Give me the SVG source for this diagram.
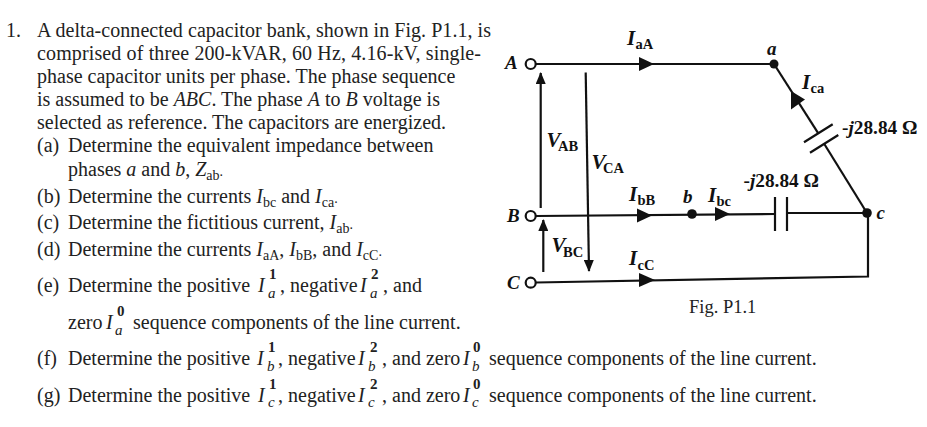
<svg xmlns="http://www.w3.org/2000/svg" width="927" height="427" viewBox="0 0 927 427">
<style>
text{font-family:"Liberation Serif","Times New Roman",serif;fill:#222;white-space:pre}
.t{font-size:20px}
.i{font-style:italic}
.s{font-size:14px}
.u{font-size:15px;font-weight:bold}
.v{font-size:15px;font-style:italic}
.n{font-size:21px;font-weight:bold;font-style:italic;fill:#111}
.l{font-size:19px;font-weight:bold;font-style:italic;fill:#111}
.m{font-size:14.5px;font-weight:bold;fill:#111}
.z{font-size:19.3px;font-weight:bold;fill:#111}
.w{fill:none;stroke:#111;stroke-width:2.2}
.d{fill:#111}
.o{fill:#fff;stroke:#111;stroke-width:2.2}
</style>
<defs>
<marker id="h" viewBox="0 0 12 10" refX="11" refY="5" markerWidth="12" markerHeight="10" markerUnits="userSpaceOnUse" orient="auto"><path d="M0 0L12 5L0 10Z" fill="#111"/></marker>
</defs>
<g id="problem-text" class="t">
<text x="6" y="37">1.</text>
<text x="37" y="37" textLength="454">A delta-connected capacitor bank, shown in Fig. P1.1, is</text>
<text x="37" y="60" textLength="444">comprised of three 200-kVAR, 60 Hz, 4.16-kV, single-</text>
<text x="37" y="83">phase capacitor units per phase. The phase sequence</text>
<text x="37" y="106">is assumed to be <tspan class="i">ABC</tspan>. The phase <tspan class="i">A</tspan> to <tspan class="i">B</tspan> voltage is</text>
<text x="37" y="129">selected as reference. The capacitors are energized.</text>
<text x="37" y="152">(a)</text><text x="68" y="152">Determine the equivalent impedance between</text>
<text x="68" y="176">phases <tspan class="i">a</tspan> and <tspan class="i">b</tspan>, <tspan class="i">Z</tspan><tspan class="s" dy="4">ab</tspan><tspan class="s" dy="-4">.</tspan></text>
<text x="37" y="203">(b)</text><text x="68" y="203">Determine the currents <tspan class="i">I</tspan><tspan class="s" dy="4">bc</tspan><tspan dy="-4"> and </tspan><tspan class="i">I</tspan><tspan class="s" dy="4">ca</tspan><tspan class="s" dy="-4">.</tspan></text>
<text x="37" y="229">(c)</text><text x="68" y="229">Determine the fictitious current, <tspan class="i">I</tspan><tspan class="s" dy="4">ab</tspan><tspan class="s" dy="-4">.</tspan></text>
<text x="37" y="256">(d)</text><text x="68" y="256">Determine the currents <tspan class="i">I</tspan><tspan class="s" dy="4">aA</tspan><tspan dy="-4">, </tspan><tspan class="i">I</tspan><tspan class="s" dy="4">bB</tspan><tspan dy="-4">, and </tspan><tspan class="i">I</tspan><tspan class="s" dy="4">cC</tspan><tspan class="s" dy="-4">.</tspan></text>

<text x="37" y="292">(e)</text><text x="68" y="292">Determine the positive</text>
<text class="i" x="258" y="292">I</text><text class="u" x="269" y="279">1</text><text class="v" x="268" y="298">a</text>
<text x="280" y="292">, negative</text>
<text class="i" x="360" y="292">I</text><text class="u" x="371" y="279">2</text><text class="v" x="370" y="298">a</text>
<text x="383" y="292">, and</text>

<text x="68" y="329">zero</text>
<text class="i" x="106" y="329">I</text><text class="u" x="117" y="316">0</text><text class="v" x="115" y="335">a</text>
<text x="133" y="329">sequence components of the line current.</text>

<text x="37" y="365">(f)</text><text x="68" y="365">Determine the positive</text>
<text class="i" x="257" y="365">I</text><text class="u" x="268" y="352">1</text><text class="v" x="267" y="371">b</text>
<text x="278" y="365">, negative</text>
<text class="i" x="358" y="365">I</text><text class="u" x="370" y="352">2</text><text class="v" x="368" y="371">b</text>
<text x="382" y="365">, and zero</text>
<text class="i" x="463" y="365">I</text><text class="u" x="473" y="352">0</text><text class="v" x="472" y="371">b</text>
<text x="489" y="365">sequence components of the line current.</text>

<text x="37" y="402">(g)</text><text x="68" y="402">Determine the positive</text>
<text class="i" x="258" y="402">I</text><text class="u" x="269" y="389">1</text><text class="v" x="268" y="407">c</text>
<text x="278" y="402">, negative</text>
<text class="i" x="358" y="402">I</text><text class="u" x="370" y="389">2</text><text class="v" x="368" y="407">c</text>
<text x="382" y="402">, and zero</text>
<text class="i" x="463" y="402">I</text><text class="u" x="473" y="389">0</text><text class="v" x="472" y="407">c</text>
<text x="489" y="402">sequence components of the line current.</text>
</g>
<g id="connectors">
<path class="w" d="M536 64H774"/>
<path class="d" d="M639 57L654 64L639 71Z"/>
<path class="w" d="M774 64L818.3 133.3"/>
<path class="w" d="M824.3 144L867 213"/>
<path class="d" d="M791 91L805 99.5L791 109.5Z"/>
<path class="w" d="M804 142.3L832.7 124.3M810 152.7L838.3 135"/>
<path class="w" d="M536 216L775 214M787 213H867"/>
<path class="w" d="M775 197V231M787 197V231"/>
<path class="d" d="M637 208.5L652 215.5L637 222.5Z"/>
<path class="d" d="M715 207L730 214L715 221Z"/>
<path class="w" d="M536 282.5L868 276.5V213"/>
<path class="d" d="M639 273L655 280L639 287Z"/>
<path class="w" marker-end="url(#h)" d="M540.7 208V73"/>
<path class="w" marker-end="url(#h)" d="M543.3 272V220"/>
<path class="w" marker-end="url(#h)" d="M585.7 72.5L589 271"/>
</g>
<g id="node-A"><circle class="o" cx="530.7" cy="64" r="5"/><text class="l" x="505" y="69">A</text></g>
<g id="node-B"><circle class="o" cx="530.7" cy="216" r="5"/><text class="l" x="507" y="222">B</text></g>
<g id="node-C"><circle class="o" cx="530.7" cy="282.7" r="5"/><text class="l" x="507" y="288.5">C</text></g>
<g id="node-a"><circle class="d" cx="774" cy="64" r="4.5"/><text class="l" x="767" y="55">a</text></g>
<g id="node-b"><circle class="d" cx="692" cy="214" r="4.8"/><text class="l" x="683" y="203">b</text></g>
<g id="node-c"><circle class="d" cx="867" cy="213" r="4.8"/><text class="l" x="876.5" y="219">c</text></g>
<g id="labels">
<text class="n" x="627" y="44.5">I</text><text class="m" x="635.5" y="49">aA</text>
<text class="n" x="802" y="88.5">I</text><text class="m" x="810.5" y="93">ca</text>
<text class="n" x="629" y="200.5">I</text><text class="m" x="637.5" y="205">bB</text>
<text class="n" x="708" y="201.5">I</text><text class="m" x="716.5" y="206">bc</text>
<text class="n" x="629" y="265">I</text><text class="m" x="637.5" y="269.5">cC</text>
<text class="n" x="546.5" y="146.5">V</text><text class="m" x="558" y="151">AB</text>
<text class="n" x="591.5" y="168.5">V</text><text class="m" x="603" y="173">CA</text>
<text class="n" x="551.5" y="252">V</text><text class="m" x="563" y="257">BC</text>
<text class="z" x="842" y="133.5">-<tspan class="i">j</tspan>28.84 Ω</text>
<text class="z" x="743.5" y="186.5">-<tspan class="i">j</tspan>28.84 Ω</text>
<text x="689" y="313" style="font-size:18.5px">Fig. P1.1</text>
</g>
</svg>
